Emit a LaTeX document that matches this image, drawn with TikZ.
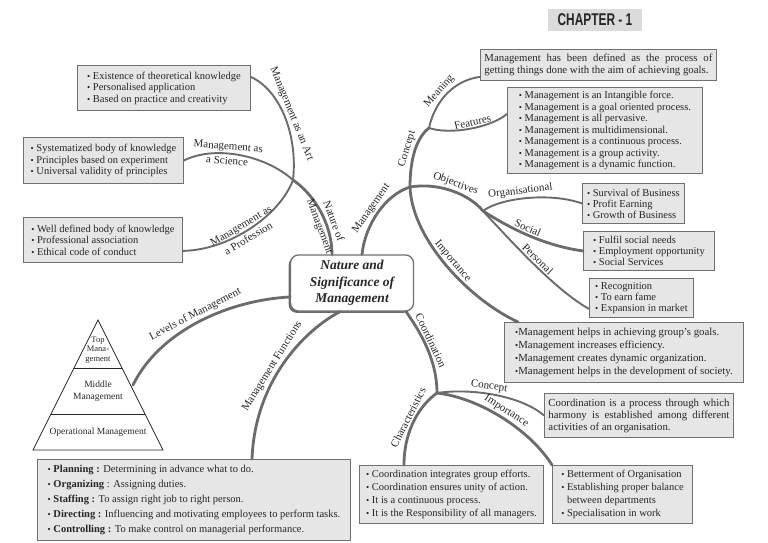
\documentclass[tikz,border=0pt]{standalone}
\usepackage{fontspec}
\setmainfont{Liberation Serif}
\newfontfamily\chapfont{Liberation Sans}
\usetikzlibrary{calc,shadows}
\definecolor{branch}{HTML}{6B6B6B}
\definecolor{boxfill}{HTML}{E6E6E6}
\definecolor{boxline}{HTML}{707070}
\definecolor{ink}{HTML}{262626}
\newcommand{\bul}{{\small\textbullet}\ }

\begin{document}
\begin{tikzpicture}[x=1pt,y=-1pt,
  every node/.style={text=ink},
  leaf/.style={draw=boxline,fill=boxfill,line width=0.9pt,anchor=north west,align=left,
    inner xsep=4pt,inner ysep=2pt,font=\fontsize{10.5}{11.5}\selectfont},
  trunk/.style={draw=branch,line width=2.8pt,line cap=round},
  twig/.style={draw=branch,line width=1.9pt,line cap=round},
  lbl/.style={sloped,font=\fontsize{11}{11.5}\selectfont,inner sep=1.5pt},
  pyr/.style={align=center,inner sep=0pt}]
  \useasboundingbox (0,0) rectangle (768,543);

  \node[fill=black!14,minimum width=94pt,minimum height=22pt,inner sep=0pt] (chap) at (595,20)
    {\scalebox{0.7}[1]{\chapfont\bfseries\fontsize{17}{17}\selectfont CHAPTER\ -\ 1}};
  \node[draw=boxline,fill=white,line width=1.3pt,rounded corners=8pt,minimum width=123pt,minimum height=56pt,
    drop shadow={shadow xshift=-1.8pt,shadow yshift=-1.8pt,fill=branch,opacity=1},
    align=center,font=\fontsize{13.5}{16.5}\selectfont\bfseries\itshape] (main) at (352,283)
    {Nature and\\ Significance of\\ Management};

  \node[leaf,minimum width=173pt,minimum height=45pt] (art) at (77,65)
    {\bul Existence of theoretical knowledge\\ \bul Personalised application\\ \bul Based on practice and creativity};
  \node[leaf,minimum width=160pt,minimum height=46pt] (sci) at (23,137)
    {\bul Systematized body of knowledge\\ \bul Principles based on experiment\\ \bul Universal validity of principles};
  \node[leaf,minimum width=159pt,minimum height=45pt] (prof) at (23,217)
    {\bul Well defined body of knowledge\\ \bul Professional association\\ \bul Ethical code of conduct};
  \node[leaf,text width=228pt,minimum height=31pt,align=justify,font=\fontsize{10.8}{12}\selectfont] (mean) at (480,49)
    {\parfillskip=0pt Management has been defined as the process of\linebreak getting things done with the aim of achieving goals.};
  \node[leaf,minimum width=195pt,minimum height=86pt] (feat) at (507,87)
    {\bul Management is an Intangible force.\\ \bul Management is a goal oriented process.\\
     \bul Management is all pervasive.\\ \bul Management is multidimensional.\\
     \bul Management is a continuous process.\\ \bul Management is a group activity.\\
     \bul Management is a dynamic function.};
  \node[leaf,minimum width=102pt,minimum height=40pt,font=\fontsize{10.5}{11}\selectfont] (org) at (582,183)
    {\bul Survival of Business\\ \bul Profit Earning\\ \bul Growth of Business};
  \node[leaf,minimum width=131pt,minimum height=39pt,font=\fontsize{10.5}{11}\selectfont] (soc) at (583,231)
    {\bul Fulfil social needs\\ \bul Employment opportunity\\ \bul Social Services};
  \node[leaf,minimum width=104pt,minimum height=39pt,font=\fontsize{10.5}{11}\selectfont] (pers) at (589,278)
    {\bul Recognition\\ \bul To earn fame\\ \bul Expansion in market};
  \node[leaf,minimum width=239pt,minimum height=60pt,font=\fontsize{10.8}{12.7}\selectfont] (imp) at (504,322)
    {{\small\textbullet}Management helps in achieving group's goals.\\
     {\small\textbullet}Management increases efficiency.\\
     {\small\textbullet}Management creates dynamic organization.\\
     {\small\textbullet}Management helps in the development of society.};
  \node[leaf,text width=181pt,minimum height=44pt,align=justify,font=\fontsize{10.8}{12}\selectfont] (cconc) at (544,393)
    {Coordination is a process through which\linebreak harmony is established among different\linebreak activities of an organisation.};
  \node[leaf,minimum width=140pt,minimum height=58pt,font=\fontsize{10.5}{12.8}\selectfont] (cimp) at (552,465)
    {\bul Betterment of Organisation\\ \bul Establishing proper balance\\ \phantom{\bul}between departments\\ \bul Specialisation in work};
  \node[leaf,minimum width=184pt,minimum height=58pt,font=\fontsize{10.5}{12.8}\selectfont] (cchar) at (359,465)
    {\bul Coordination integrates group efforts.\\ \bul Coordination ensures unity of action.\\
     \bul It is a continuous process.\\ \bul It is the Responsibility of all managers.};
  \node[leaf,minimum width=313pt,minimum height=81pt,font=\fontsize{10.5}{15}\selectfont] (func) at (37,459)
    {\bul\textbf{Planning :} Determining in advance what to do.\\
     \bul\textbf{Organizing} : Assigning duties.\\
     \bul\textbf{Staffing :} To assign right job to right person.\\
     \bul\textbf{Directing :} Influencing and motivating employees to perform tasks.\\
     \bul\textbf{Controlling :} To make control on managerial performance.};

  \draw[draw=ink,line width=0.7pt] (98,320) -- (163,450) -- (33,450) -- cycle;
  \draw[draw=ink,line width=0.7pt] (74,368) -- (122,368) (51,414) -- (145,414);
  \node[pyr,font=\fontsize{8.5}{9.5}\selectfont] (ptop) at (98,350) {Top\\Mana-\\gement};
  \node[pyr,font=\fontsize{9.5}{12}\selectfont] (pmid) at (98,391) {Middle\\Management};
  \node[pyr,font=\fontsize{9.5}{11}\selectfont] (pbot) at (98,432) {Operational Management};

  \coordinate (jnat) at (293,180);
  \coordinate (jmgt) at (410,187);
  \coordinate (jcon) at (429,128);
  \coordinate (jobj) at (483,211);
  \coordinate (jcoo) at (437,393);
  \coordinate (pyr) at (133,385);

  \draw[trunk] ($(main.north)+(-20,0)$) .. controls (332,225) and (315,195) .. (jnat)
    node[lbl,pos=.35,align=center] {Nature of\\[3pt]Management};
  \draw[twig] ($(art.north east)+(0,12)$) .. controls (280,90) and (298,135) .. (jnat)
    node[lbl,pos=.5,above] {Management as an Art};
  \draw[twig] (sci.east) .. controls (215,145) and (265,155) .. (jnat)
    node[lbl,pos=.4,align=center] {Management as\\[3pt]a Science};
  \draw[twig] ($(prof.south east)+(0,-12)$) .. controls (230,250) and (280,215) .. (jnat)
    node[lbl,pos=.45,align=center] {Management as\\[3pt]a Profession};

  \draw[trunk] ($(main.north)+(10,0)$) .. controls (365,225) and (385,195) .. (jmgt)
    node[lbl,pos=.5,above] {Management};
  \draw[trunk] (jmgt) .. controls (410,160) and (416,138) .. (jcon)
    node[lbl,pos=.5,above] {Concept};
  \draw[twig] (jcon) .. controls (435,100) and (455,80) .. ($(mean.south west)+(0,-4)$)
    node[lbl,pos=.45,above] {Meaning};
  \draw[twig] (jcon) .. controls (450,135) and (490,128) .. ($(feat.north west)+(0,27)$)
    node[lbl,pos=.55,above] {Features};
  \draw[trunk] (jmgt) .. controls (440,182) and (470,195) .. (jobj)
    node[lbl,pos=.5,above] {Objectives};
  \draw[trunk] (jmgt) .. controls (412,240) and (470,300) .. ($(imp.north west)+(14,0)$)
    node[lbl,pos=.5,above] {Importance};
  \draw[twig] (jobj) .. controls (500,198) and (550,192) .. (org.west)
    node[lbl,pos=.45,above] {Organisational};
  \draw[trunk] (jobj) .. controls (505,225) and (540,245) .. (soc.west)
    node[lbl,pos=.5,above] {Social};
  \draw[twig] (jobj) .. controls (510,240) and (555,290) .. ($(pers.south west)+(0,-9)$)
    node[lbl,pos=.5,above] {Personal};

  \draw[trunk] ($(main.south east)+(-8,0)$) .. controls (415,325) and (437,355) .. (jcoo)
    node[lbl,pos=.5,above] {Coordination};
  \draw[twig] (jcoo) .. controls (470,388) and (520,395) .. (cconc.west)
    node[lbl,pos=.45,above] {Concept};
  \draw[trunk] (jcoo) .. controls (480,398) and (530,430) .. (cimp.north west)
    node[lbl,pos=.5,above] {Importance};
  \draw[trunk] (jcoo) .. controls (420,405) and (404,430) .. ($(cchar.north west)+(45,0)$)
    node[lbl,pos=.5,above] {Characteristics};

  \draw[trunk] ($(main.south)+(-12,0)$) .. controls (305,330) and (255,380) .. ($(func.north west)+(215,0)$)
    node[lbl,pos=.55,above] {Management Functions};
  \draw[trunk] ($(main.west)+(0,14)$) .. controls (230,300) and (160,330) .. (pyr)
    node[lbl,pos=.5,above] {Levels of Management};
\end{tikzpicture}
\end{document}
